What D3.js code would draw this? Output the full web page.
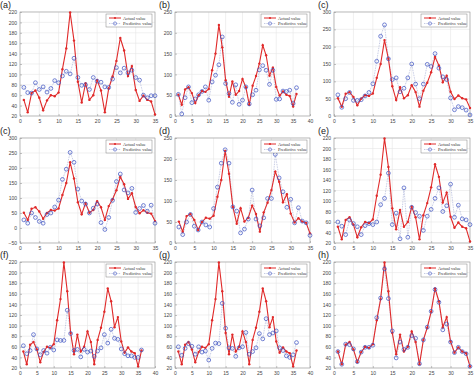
<!DOCTYPE html>
<html>
<head>
<meta charset="utf-8">
<script src="https://cdn.jsdelivr.net/npm/d3@7/dist/d3.min.js"></script>
<style>
  body { margin: 0; background: #fff; }
  svg { display: block; font-family: "Liberation Sans", Arial, sans-serif; }
  .tick text { font-size: 5px; fill: #444; }
  .grid line { stroke: #e6e6e6; stroke-width: 0.6; }
  .panel-label { font-size: 9px; fill: #222; }
  .legend text { font-family: "Liberation Serif", serif; font-size: 4.5px; fill: #333; }
</style>
</head>
<body>
<svg id="chart" width="474" height="375"></svg>
<script>
(function (d3) {
  'use strict'

  // actual series (same in every panel)
  const actual = [51, 27, 64, 69, 55, 31, 50, 60, 58, 65, 110, 150, 219, 165, 86, 46, 83, 51, 60, 89,
    69, 27, 73, 96, 126, 170, 146, 97, 116, 70, 49, 59, 51, 48, 23, 53]

  // predicted series, one per panel
  const predA = [75, 65, 64, 84, 71, 76, 66, 73, 88, 84, 97, 106, 101, 131, 94, 79, 80, 71, 94, 87,
    85, 76, 75, 91, 113, 103, 112, 103, 108, 94, 89, 60, 55, 59, 59]
  const predB = [52, 5, 44, 70, 32, 41, 51, 59, 70, 38, 82, 98, 123, 190, 78, 54, 33, 75, 28, 38,
    70, 29, 51, 62, 111, 121, 110, 76, 110, 40, 41, 60, 59, 62, 30, 68]
  const predC1 = [61, 25, 50, 68, 45, 45, 47, 58, 68, 93, 158, 230, 263, 165, 105, 110, 70, 80, 110, 150,
    92, 50, 92, 149, 143, 180, 138, 113, 105, 52, 18, 27, 24, 17, 3]
  const predC2 = [27, 16, 50, 35, 22, 16, 45, 50, 70, 93, 162, 196, 252, 219, 130, 90, 80, 50, 66, 80,
    18, -5, 35, 92, 155, 180, 127, 117, 132, 52, 65, 75, 56, 76, 16]
  const predD = [38, 20, 50, 68, 40, 31, 50, 43, 38, 82, 133, 190, 222, 190, 86, 76, 24, 33, 57, 126,
    57, 41, 60, 106, 106, 211, 155, 122, 85, 104, 48, 84, 52, 48, 18]
  const predE = [60, 52, 36, 64, 57, 51, 36, 53, 57, 55, 60, 93, 105, 153, 55, 77, 28, 125, 31, 88,
    78, 71, 44, 71, 84, 105, 125, 80, 91, 132, 69, 92, 66, 64, 55]
  const predF = [62, 47, 53, 83, 56, 45, 53, 48, 59, 54, 73, 72, 72, 129, 85, 53, 55, 41, 55, 50,
    52, 42, 52, 58, 83, 67, 93, 76, 74, 56, 47, 43, 43, 40, 40, 54]
  const predG = [60, 44, 57, 66, 61, 46, 60, 50, 52, 35, 57, 67, 66, 142, 95, 58, 57, 42, 58, 60,
    87, 46, 51, 58, 85, 75, 113, 83, 86, 90, 58, 53, 43, 40, 45, 68]
  const predH = [51, 27, 65, 64, 56, 32, 50, 59, 59, 63, 115, 152, 207, 151, 90, 39, 69, 55, 59, 81,
    76, 28, 73, 97, 127, 168, 144, 92, 103, 69, 49, 59, 51, 47, 23]

  const labels = ['(a)', '(b)', '(c)', '(c)', '(d)', '(e)', '(f)', '(g)', '(h)']
  const preds = [predA, predB, predC1, predC2, predD, predE, predF, predG, predH]
  const yDomains = [[20, 220], [0, 250], [0, 300], [-50, 300], [0, 250], [20, 220], [20, 220], [20, 220], [20, 220]]
  const yTickSteps = [20, 50, 50, 50, 50, 20, 20, 20, 20]
  const xMaxes = [35, 40, 35, 35, 35, 35, 40, 40, 35]
  const legendNames = ['Actual value', 'Predictive value']

  const svg = d3.select('#chart')
  const colLeft = [20, 175, 334]
  const colRight = [155, 310, 470]
  const rowTop = [12, 138, 262]
  const rowBottom = [116, 243, 368]
  const labelBase = [8, 134, 258]

  const red = '#e02a2a'
  const blue = '#3a4fc0'

  preds.forEach((pred, i) => {
    const col = i % 3
    const row = Math.floor(i / 3)
    const x0 = colLeft[col]
    const y0 = rowTop[row]
    const w = colRight[col] - x0
    const h = rowBottom[row] - y0
    const xMax = xMaxes[i]
    const yd = yDomains[i]

    const xScale = d3.scaleLinear().domain([0, xMax]).range([0, w])
    const yScale = d3.scaleLinear().domain(yd).range([h, 0])
    const xTicks = d3.range(0, xMax + 1, 5)
    const yTicks = d3.range(yd[0], yd[1] + 1, yTickSteps[i])

    svg.append('text').
      attr('class', 'panel-label').
      attr('x', col === 0 ? 0 : x0 - 16).
      attr('y', labelBase[row]).
      text(labels[i])

    const g = svg.append('g').attr('transform', `translate(${x0},${y0})`)

    // grid
    const grid = g.append('g').attr('class', 'grid')
    grid.selectAll('.gx').data(xTicks).enter().append('line').
      attr('x1', d => xScale(d)).attr('x2', d => xScale(d)).
      attr('y1', 0).attr('y2', h)
    grid.selectAll('.gy').data(yTicks).enter().append('line').
      attr('x1', 0).attr('x2', w).
      attr('y1', d => yScale(d)).attr('y2', d => yScale(d))

    const xAxis = d3.axisBottom(xScale).tickValues(xTicks).tickSize(-2).tickPadding(3)
    const yAxis = d3.axisLeft(yScale).tickValues(yTicks).tickSize(-2).tickPadding(3)
    const xAxisG = g.append('g').attr('transform', `translate(0,${h})`).call(xAxis)
    const yAxisG = g.append('g').call(yAxis)
    ;[xAxisG, yAxisG].forEach(a => {
      a.selectAll('.domain').remove()
      a.selectAll('line').attr('stroke', '#888').attr('stroke-width', 0.5)
    })
    g.append('rect').
      attr('width', w).attr('height', h).
      attr('fill', 'none').attr('stroke', '#999').attr('stroke-width', 0.6)

    const act = actual.slice(0, Math.min(actual.length, xMax, pred.length >= 36 ? 36 : 35)).
      map((v, k) => ({ x: k + 1, y: v }))
    const prd = pred.map((v, k) => ({ x: k + 1, y: v }))

    const line = d3.line().x(d => xScale(d.x)).y(d => yScale(d.y))

    g.append('path').datum(prd).
      attr('d', line).
      attr('fill', 'none').
      attr('stroke', '#8a94c8').
      attr('stroke-width', 0.6).
      attr('stroke-dasharray', '0.8,0.9')

    g.append('path').datum(act).
      attr('d', line).
      attr('fill', 'none').
      attr('stroke', red).
      attr('stroke-width', 1.1)

    g.selectAll('.act-dot').data(act).enter().append('circle').
      attr('cx', d => xScale(d.x)).attr('cy', d => yScale(d.y)).
      attr('r', 1.2).attr('fill', red)

    g.selectAll('.pred-dot').data(prd).enter().append('circle').
      attr('cx', d => xScale(d.x)).attr('cy', d => yScale(d.y)).
      attr('r', 1.9).attr('fill', 'none').
      attr('stroke', blue).attr('stroke-width', 0.7)

    // legend
    const lw = 46
    const lh = 13
    const lg = g.append('g').attr('class', 'legend').
      attr('transform', `translate(${w - lw - 3},2)`)
    lg.append('rect').attr('width', lw).attr('height', lh).
      attr('fill', '#fff').attr('stroke', '#666').attr('stroke-width', 0.4)
    lg.append('line').attr('x1', 3).attr('x2', 15).attr('y1', 4).attr('y2', 4).
      attr('stroke', red).attr('stroke-width', 1)
    lg.append('circle').attr('cx', 9).attr('cy', 4).attr('r', 1.1).attr('fill', red)
    lg.append('line').attr('x1', 3).attr('x2', 15).attr('y1', 9.5).attr('y2', 9.5).
      attr('stroke', '#8a94c8').attr('stroke-width', 0.6).attr('stroke-dasharray', '0.8,0.9')
    lg.append('circle').attr('cx', 9).attr('cy', 9.5).attr('r', 1.6).
      attr('fill', 'none').attr('stroke', blue).attr('stroke-width', 0.6)
    lg.selectAll('text').data(legendNames).enter().append('text').
      attr('x', 17).attr('y', (d, k) => 5.5 + k * 5.5).
      text(d => d)
  })
}(d3))
</script>
</body>
</html>
